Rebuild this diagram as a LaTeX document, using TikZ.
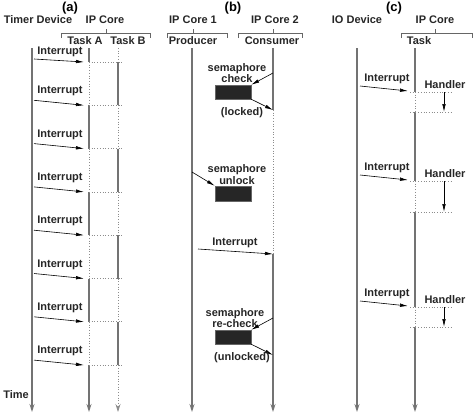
\documentclass[tikz,border=0pt]{standalone}
\usepackage{fontspec}
\setmainfont{Liberation Sans}
\usetikzlibrary{arrows.meta}

\tikzset{
  txt/.style={font=\fontsize{11}{11.5}\selectfont\bfseries, text=black!85, inner sep=1pt, align=center},
  paneltitle/.style={font=\fontsize{13}{14}\selectfont\bfseries, inner sep=1pt},
  lifeline/.style={draw=black!55, line width=1.1pt},
  idleline/.style={draw=black!45, line width=.7pt, dotted},
  timeend/.style={-{Stealth[length=8pt,width=5pt]}},
  irq/.style={draw=black, line width=.6pt, -{Latex[length=8pt,width=3.5pt]}},
  bracket/.style={draw=black!60, line width=.7pt},
  sembox/.style={draw=black!60, fill=black!85, minimum width=36pt, minimum height=14pt, inner sep=0pt},
}

\begin{document}
\begin{tikzpicture}[x=1pt,y=-1pt]
\useasboundingbox (0,0) rectangle (474,415);

% ---- (a) periodic timer interrupts
\node[paneltitle] (title a) at (70,8) {(a)};
\node[txt] (timer) at (38,20) {Timer Device};
\node[txt] (core a) at (105,20) {IP Core};
\node[txt] (task a) at (85,41) {Task A};
\node[txt] (task b) at (128,41) {Task B};
\draw[bracket] (61,38) -- (61,33) -- (150,33) -- (150,38) (106,33) -- (106,29);
\node[txt] (time) at (16,395) {Time};

\coordinate (timer top) at (32,48);
\coordinate (timer end) at (32,412);
\draw[lifeline,timeend] (timer top) -- (timer end);

\foreach \y [count=\k from 0] in {48,62,105.3,148.6,191.9,235.2,278.5,321.8,365.1,412} {
  \coordinate (A\k) at (89,\y);
  \coordinate (B\k) at (118,\y);
}
\foreach \k [evaluate=\k as \j using int(\k+1)] in {0,...,7} {
  \ifodd\k
    \draw[idleline] (A\k) -- (A\j); \draw[lifeline] (B\k) -- (B\j);
  \else
    \draw[lifeline] (A\k) -- (A\j); \draw[idleline] (B\k) -- (B\j);
  \fi
}
\draw[lifeline,timeend] (A8) -- (A9);
\draw[idleline,timeend] (B8) -- (B9);

\foreach \k/\up/\drop in {1/10/3,2/14/5,3/14/5,4/14/5,5/14/5,6/14/5,7/14/5,8/14/5} {
  \coordinate (irq src \k) at ([xshift=-55pt,yshift=\drop pt]A\k);
  \coordinate (irq dst \k) at ([xshift=-5pt]A\k);
  \draw[irq] (irq src \k) -- (irq dst \k);
  \node[txt] (irq lbl \k) at ([xshift=-29pt,yshift=\up pt]A\k) {Interrupt};
  \draw[idleline] (A\k) -- ([xshift=6pt]B\k);
}

% ---- (b) semaphore between two cores
\node[paneltitle] (title b) at (233,8) {(b)};
\node[txt] (core one) at (193,20) {IP Core 1};
\node[txt] (core two) at (275,20) {IP Core 2};
\node[txt] (producer) at (193,41) {Producer};
\node[txt] (consumer) at (272,41) {Consumer};
\draw[bracket] (167,38) -- (167,33) -- (227,33) -- (227,38) (193,33) -- (193,29);
\draw[bracket] (238,38) -- (238,33) -- (302,33) -- (302,38) (273,33) -- (273,29);

\coordinate (prod top) at (192,48);
\coordinate (prod end) at (192,412);
\draw[lifeline,timeend] (prod top) -- (prod end);
\coordinate (cons top) at (273,48);
\coordinate (cons wait) at (273,110);
\coordinate (cons wake) at (273,254);
\coordinate (cons end) at (273,412);
\draw[lifeline] (cons top) -- (cons wait);
\draw[idleline] (cons wait) -- (cons wake);
\draw[lifeline,timeend] (cons wake) -- (cons end);

\node[sembox] (chk box) at (233,92) {};
\node[txt] (chk lbl) at (237,73) {semaphore\\check};
\coordinate (chk src) at (273,73);
\draw[irq] (chk src) -- (chk box.north east);
\draw[irq] (chk box.south east) -- (cons wait);
\node[txt] (locked) at (242,113) {(locked)};

\node[sembox, minimum height=15pt] (unl box) at (233,193.5) {};
\node[txt] (unl lbl) at (237,174.5) {semaphore\\unlock};
\coordinate (unl src) at (192,172);
\draw[irq] (unl src) -- (unl box.north west);

\coordinate (irq b src) at (198,249);
\draw[irq] (irq b src) -- (cons wake);
\node[txt] (irq b lbl) at (235,243) {Interrupt};

\node[sembox] (rchk box) at (233,337) {};
\node[txt] (rchk lbl) at (235,318) {semaphore\\re-check};
\coordinate (rchk src) at (273,318);
\coordinate (rchk dst) at (273,355);
\draw[irq] (rchk src) -- (rchk box.north east);
\draw[irq] (rchk box.south east) -- (rchk dst);
\node[txt] (unlocked) at (242,358) {(unlocked)};

% ---- (c) device interrupts and handler
\node[paneltitle] (title c) at (394,8) {(c)};
\node[txt] (io dev) at (357,20) {IO Device};
\node[txt] (core c) at (435,20) {IP Core};
\node[txt] (task) at (419,41) {Task};
\draw[bracket] (401,38) -- (401,33) -- (472,33) -- (472,38) (435,33) -- (435,29);

\coordinate (io top) at (357,48);
\coordinate (io end) at (357,412);
\draw[lifeline,timeend] (io top) -- (io end);

\foreach \y [count=\k] in {48,92,112,181,212,307,327,412}
  \coordinate (T\k) at (415,\y);
\draw[lifeline] (T1) -- (T2) (T3) -- (T4) (T5) -- (T6);
\draw[lifeline,timeend] (T7) -- (T8);

\foreach \k/\j in {2/3,4/5,6/7} {
  \draw[idleline] (T\k) -- (T\j);
  \draw[idleline] ([xshift=-5pt]T\k) -- ([xshift=36pt]T\k);
  \draw[idleline] ([xshift=-5pt]T\j) -- ([xshift=36pt]T\j);
  \draw[irq] ([xshift=29pt]T\k) -- ([xshift=29pt]T\j);
  \node[txt] (hnd lbl \k) at ([xshift=30pt,yshift=7pt]T\k) {Handler};
  \coordinate (io src \k) at ([xshift=-55pt,yshift=6pt]T\k);
  \coordinate (io dst \k) at ([xshift=-7pt,yshift=1pt]T\k);
  \draw[irq] (io src \k) -- (io dst \k);
  \node[txt] (io lbl \k) at ([xshift=-28pt,yshift=13pt]T\k) {Interrupt};
}
\end{tikzpicture}
\end{document}
